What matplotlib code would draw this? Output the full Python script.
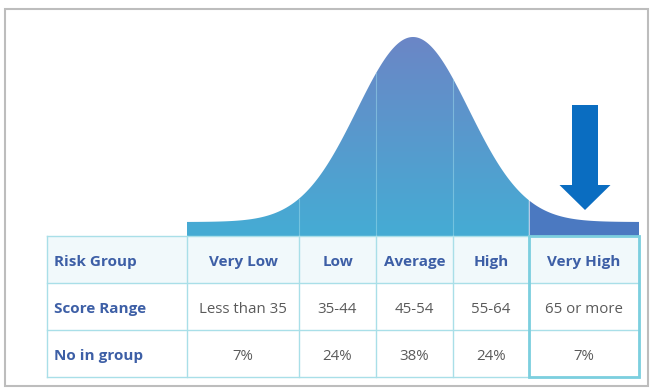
import numpy as np
import matplotlib
matplotlib.use("Agg")
import matplotlib.pyplot as plt
from matplotlib.patches import Rectangle, Polygon, FancyArrow
from matplotlib.colors import to_rgb

plt.rcParams['font.family'] = ['Open Sans', 'DejaVu Sans']

# table content
row_labels = ["Risk Group", "Score Range", "No in group"]
groups = ["Very Low", "Low", "Average", "High", "Very High"]
score_ranges = ["Less than 35", "35-44", "45-54", "55-64", "65 or more"]
shares = [7, 24, 38, 24, 7]
highlight = "Very High"

# layout (pixel space)
col_edges = [47, 187, 299, 376, 453, 529, 639]
row_edges = [236, 283, 330, 377]
band_top = 222
curve_mu, curve_sigma, curve_peak = 413, 56, 37

head_col = "#3d5fa6"
body_col = "#5a5a5a"
grid_col = "#a9dfe8"

fig = plt.figure(figsize=(6.55, 3.92), dpi=100)
ax = fig.add_axes([0, 0, 1, 1])

# bell curve shape on top of the table
x = np.linspace(col_edges[1], col_edges[-1], 600)
y = band_top - (band_top - curve_peak) * np.exp(-0.5 * ((x - curve_mu) / curve_sigma) ** 2)
base = row_edges[0]

def curve_poly(x0, x1):
    m = (x >= x0) & (x <= x1)
    pts = list(zip(x[m], y[m])) + [(x[m][-1], base), (x[m][0], base)]
    return Polygon(pts, closed=True, facecolor="none", edgecolor="none")

def gradient(c_top, c_bot):
    t = np.linspace(0, 1, 256)[:, None, None]
    return np.array(to_rgb(c_top))[None, None, :] * (1 - t) + np.array(to_rgb(c_bot))[None, None, :] * t

hi_x = col_edges[groups.index(highlight) + 1]
p_main = curve_poly(col_edges[1], hi_x)
ax.add_patch(p_main)
im = ax.imshow(gradient("#6b86c6", "#45acd4"), extent=(col_edges[1], hi_x, base, curve_peak),
               origin="upper", aspect="auto", zorder=1)
im.set_clip_path(p_main)

p_hi = curve_poly(hi_x, col_edges[-1])
ax.add_patch(p_hi)
im2 = ax.imshow(gradient("#4a74be", "#4c7ac2"), extent=(hi_x, col_edges[-1], base, curve_peak),
                origin="upper", aspect="auto", zorder=1)
im2.set_clip_path(p_hi)

# faint column dividers inside the curve
for cx in col_edges[2:5]:
    cy = band_top - (band_top - curve_peak) * np.exp(-0.5 * ((cx - curve_mu) / curve_sigma) ** 2)
    ax.plot([cx, cx], [base, cy], color="#9fdcec", lw=0.8, alpha=0.5, zorder=2)

# arrow pointing at the highlighted column
ax_c = (hi_x + col_edges[-1]) / 2 + 1
ax.add_patch(FancyArrow(ax_c, 105, 0, 105, width=26, head_width=51, head_length=25,
                        length_includes_head=True, color="#0a6dc1", lw=0, zorder=3))

# table
ax.add_patch(Rectangle((col_edges[0], row_edges[0]), col_edges[-1] - col_edges[0],
                       row_edges[1] - row_edges[0], facecolor="#f1f9fb", edgecolor="none", zorder=2))
for yy in row_edges:
    ax.plot([col_edges[0], col_edges[-1]], [yy, yy], color=grid_col, lw=1, zorder=3)
for xx in col_edges:
    ax.plot([xx, xx], [row_edges[0], row_edges[-1]], color=grid_col, lw=1, zorder=3)

k = groups.index(highlight)
ax.add_patch(Rectangle((col_edges[k + 1], row_edges[0]), col_edges[k + 2] - col_edges[k + 1],
                       row_edges[-1] - row_edges[0], facecolor="none", edgecolor="#7ccfdf",
                       lw=2.0, zorder=4))

# text sits on a common baseline in each row
row_base = [(row_edges[i] + row_edges[i + 1]) / 2 + 6.5 for i in range(3)]
for i, lab in enumerate(row_labels):
    ax.text(col_edges[0] + 7, row_base[i], lab, ha="left", va="baseline", fontsize=11,
            fontweight="bold", color=head_col, zorder=5)

for j in range(len(groups)):
    cx = (col_edges[j + 1] + col_edges[j + 2]) / 2
    ax.text(cx, row_base[0], groups[j], ha="center", va="baseline", fontsize=11,
            fontweight="bold", color=head_col, zorder=5)
    ax.text(cx, row_base[1], score_ranges[j], ha="center", va="baseline", fontsize=10.8,
            color=body_col, zorder=5)
    ax.text(cx, row_base[2], f"{shares[j]}%", ha="center", va="baseline", fontsize=10.8,
            color=body_col, zorder=5)

# outer frame
ax.add_patch(Rectangle((4.5, 9), 643.5, 377, facecolor="none", edgecolor="#bdbdbd", lw=1.5, zorder=6))

ax.set_xlim(0, 655)
ax.set_ylim(392, 0)
ax.axis("off")
fig.savefig("out.png", dpi=100)
